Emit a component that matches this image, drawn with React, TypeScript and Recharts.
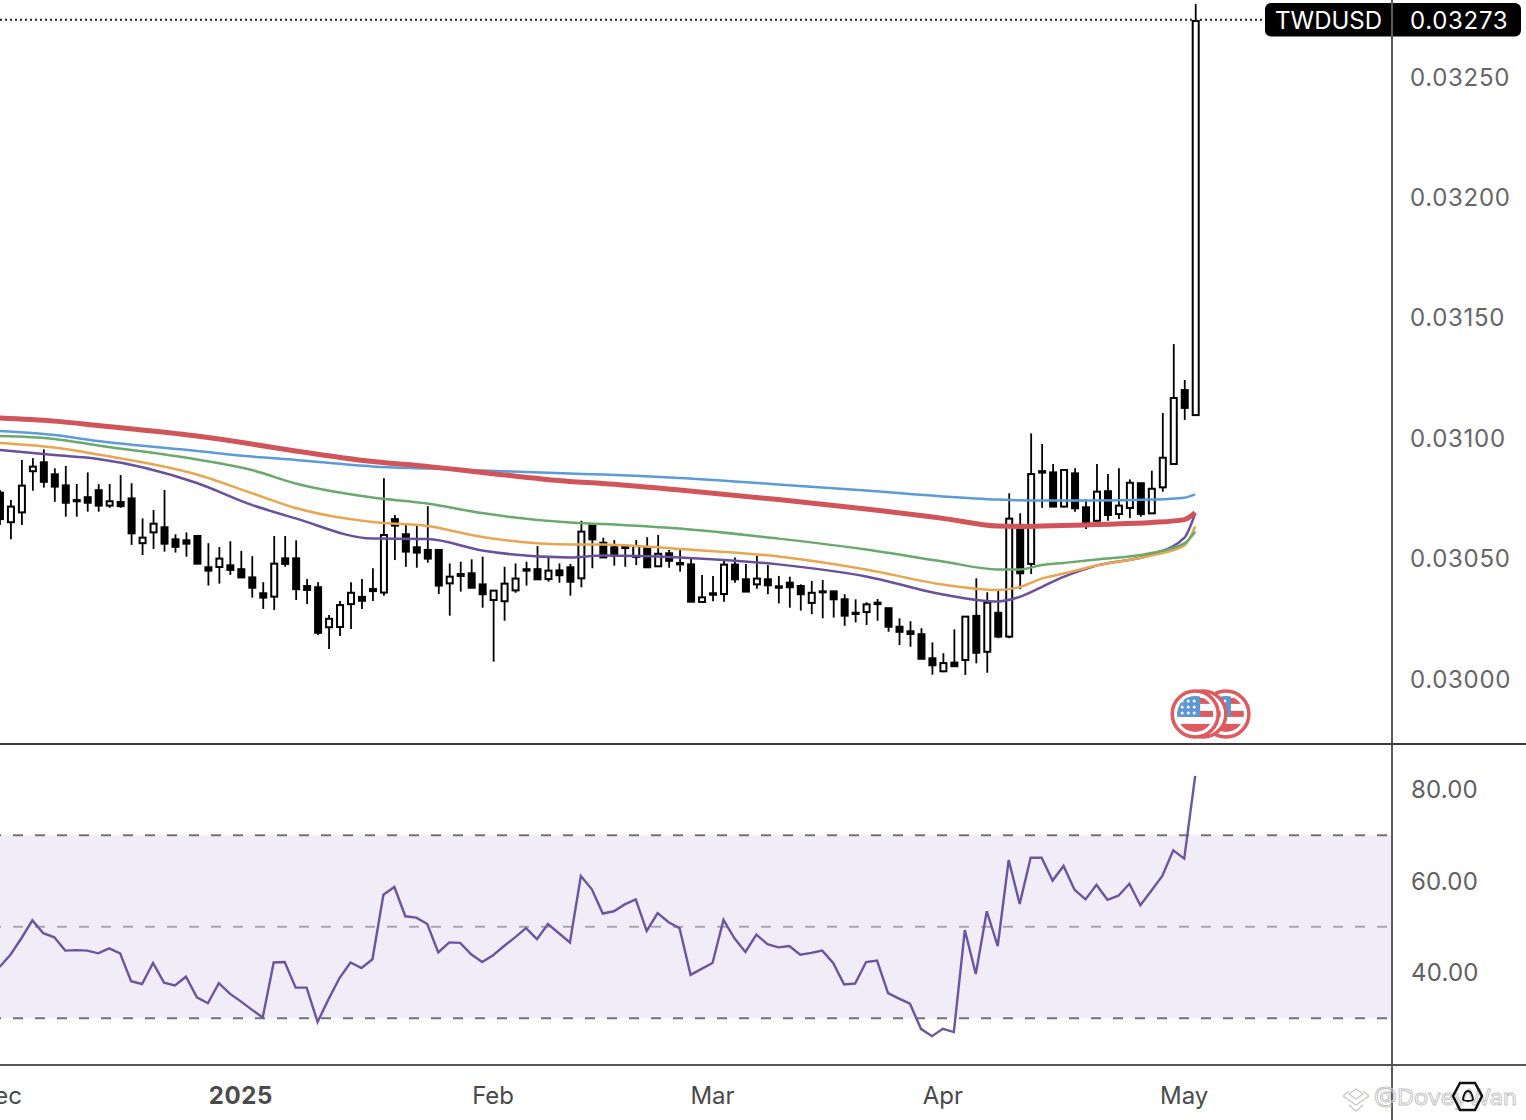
import { Bar, ComposedChart, Line, LineChart, ReferenceArea, ReferenceDot, ReferenceLine, XAxis, YAxis } from "recharts";

const opens = [
  0.030774, 0.030651, 0.030692, 0.030863, 0.0309, 0.03085, 0.030804, 0.030743, 0.030755, 0.030784,
  0.03072, 0.030735, 0.03075, 0.030564, 0.030609, 0.03063, 0.03058, 0.030576, 0.030594, 0.030464,
  0.030465, 0.030472, 0.030456, 0.030422, 0.030356, 0.030342, 0.030501, 0.030501, 0.030386, 0.030381,
  0.030215, 0.030216, 0.030311, 0.030341, 0.030374, 0.030359, 0.030664, 0.030601, 0.030547, 0.030536,
  0.030536, 0.030397, 0.030436, 0.030439, 0.030393, 0.030328, 0.030323, 0.030368, 0.030456, 0.030456,
  0.030415, 0.030451, 0.030464, 0.030418, 0.030638, 0.030566, 0.030547, 0.030549, 0.030507, 0.030547,
  0.030468, 0.030522, 0.030482, 0.030476, 0.03032, 0.030356, 0.030353, 0.030475, 0.030414, 0.030393,
  0.030414, 0.030385, 0.0304, 0.030386, 0.030316, 0.030364, 0.030364, 0.030331, 0.030275, 0.030278,
  0.030317, 0.030294, 0.030217, 0.030198, 0.030186, 0.030086, 0.030032, 0.030068, 0.030079, 0.030262,
  0.030113, 0.030275, 0.030176, 0.03064, 0.030478, 0.030863, 0.030858, 0.030716, 0.030854, 0.030713,
  0.030657, 0.03078, 0.030685, 0.03071, 0.030813, 0.030688, 0.030796, 0.030893, 0.0312, 0.031096,
];
const highs = [
  0.030785, 0.030743, 0.03091, 0.030917, 0.030954, 0.030875, 0.030885, 0.03081, 0.030858, 0.030809,
  0.03081, 0.030847, 0.030813, 0.030667, 0.030702, 0.030785, 0.030601, 0.030609, 0.030594, 0.030564,
  0.030548, 0.030572, 0.030532, 0.03051, 0.030402, 0.030594, 0.030594, 0.030576, 0.030415, 0.030402,
  0.030266, 0.030324, 0.030402, 0.030415, 0.03046, 0.030834, 0.030681, 0.030644, 0.03064, 0.030718,
  0.030536, 0.03048, 0.030487, 0.030497, 0.030508, 0.030367, 0.030466, 0.03048, 0.030487, 0.030552,
  0.030511, 0.03048, 0.030478, 0.030657, 0.030638, 0.030587, 0.030577, 0.030557, 0.030577, 0.030589,
  0.030598, 0.030536, 0.030536, 0.030504, 0.030432, 0.030428, 0.030491, 0.030505, 0.030478, 0.030512,
  0.030473, 0.030428, 0.030425, 0.030393, 0.030407, 0.030411, 0.030364, 0.030352, 0.030331, 0.030319,
  0.030332, 0.030294, 0.030252, 0.03024, 0.030211, 0.030152, 0.030107, 0.030206, 0.030259, 0.030418,
  0.03036, 0.03037, 0.030771, 0.030688, 0.03102, 0.030976, 0.030893, 0.030868, 0.030875, 0.030746,
  0.030893, 0.030851, 0.030875, 0.030829, 0.030813, 0.030865, 0.031105, 0.031391, 0.031242, 0.032803,
];
const lows = [
  0.03064, 0.03058, 0.03064, 0.030782, 0.030795, 0.030736, 0.030674, 0.030674, 0.030695, 0.030695,
  0.030711, 0.030711, 0.030557, 0.030515, 0.03054, 0.030529, 0.030525, 0.030508, 0.030479, 0.030388,
  0.030396, 0.030432, 0.030421, 0.030338, 0.030291, 0.030287, 0.030466, 0.030328, 0.030311, 0.030183,
  0.030125, 0.030179, 0.030208, 0.030291, 0.030324, 0.030346, 0.030494, 0.030466, 0.030462, 0.030483,
  0.030353, 0.030263, 0.030363, 0.030379, 0.030296, 0.030072, 0.030242, 0.030358, 0.030388, 0.030414,
  0.030404, 0.0304, 0.030346, 0.030381, 0.03046, 0.030505, 0.030471, 0.030466, 0.030473, 0.030464,
  0.030468, 0.030462, 0.030446, 0.030321, 0.030319, 0.030323, 0.030321, 0.0304, 0.030363, 0.030375,
  0.030352, 0.030314, 0.030296, 0.030284, 0.030269, 0.030252, 0.030255, 0.030221, 0.030235, 0.030224,
  0.030242, 0.030196, 0.030141, 0.030134, 0.030084, 0.030018, 0.030028, 0.030053, 0.030017, 0.030065,
  0.030026, 0.030169, 0.030169, 0.030373, 0.030436, 0.030711, 0.030716, 0.030713, 0.030695, 0.030623,
  0.030657, 0.030657, 0.030664, 0.030669, 0.030674, 0.030688, 0.030778, 0.030893, 0.031076, 0.031096,
];
const closes = [
  0.030664, 0.030716, 0.030803, 0.030882, 0.030819, 0.030799, 0.030732, 0.030738, 0.030732, 0.03072,
  0.030738, 0.030718, 0.030605, 0.030587, 0.030645, 0.030562, 0.030549, 0.030562, 0.030479, 0.03045,
  0.0305, 0.030453, 0.030422, 0.030379, 0.030338, 0.030479, 0.030478, 0.030373, 0.03037, 0.030192,
  0.03025, 0.030307, 0.030358, 0.030325, 0.030365, 0.030598, 0.030637, 0.030529, 0.030525, 0.0305,
  0.030388, 0.030425, 0.030428, 0.030379, 0.030352, 0.030367, 0.030396, 0.030417, 0.03045, 0.030414,
  0.03045, 0.030431, 0.030404, 0.030612, 0.03058, 0.030505, 0.030512, 0.030544, 0.030552, 0.030464,
  0.03052, 0.030491, 0.030476, 0.030321, 0.030339, 0.03035, 0.030475, 0.030414, 0.030363, 0.030417,
  0.030389, 0.030379, 0.030381, 0.030352, 0.030358, 0.03036, 0.030331, 0.030263, 0.03027, 0.03031,
  0.030311, 0.030217, 0.030196, 0.030187, 0.030084, 0.030057, 0.030066, 0.030053, 0.030259, 0.030109,
  0.030317, 0.030176, 0.030666, 0.030439, 0.030851, 0.030857, 0.030716, 0.030868, 0.030709, 0.030652,
  0.030778, 0.030681, 0.03072, 0.030815, 0.030685, 0.03079, 0.030919, 0.031167, 0.031126, 0.032733,
];

// moving averages at these candle positions
const maIndex = [0, 5, 9, 18, 23, 27, 34, 39, 44, 52, 55, 62, 71, 79, 86, 91, 93, 95, 97, 100, 105, 108, 109];
const maRed = [
  0.031084, 0.031071, 0.031053, 0.031009, 0.030976, 0.030947, 0.030903, 0.030883, 0.030858, 0.03082, 0.030812, 0.030785,
  0.030745, 0.030706, 0.030667, 0.030635, 0.030633, 0.030635, 0.030637, 0.030642, 0.03065, 0.030662, 0.030691,
];
const maBlue = [
  0.03103, 0.031013, 0.030988, 0.030947, 0.030924, 0.03091, 0.030883, 0.030874, 0.030866, 0.030853, 0.030849, 0.030835,
  0.030808, 0.030783, 0.030758, 0.030745, 0.030742, 0.030741, 0.030741, 0.030741, 0.030745, 0.030753, 0.030767,
];
const maGreen = [
  0.031009, 0.030997, 0.03097, 0.030912, 0.030868, 0.030812, 0.030754, 0.030729, 0.030689, 0.03065, 0.030644, 0.030625,
  0.030583, 0.030538, 0.030488, 0.030455, 0.030455, 0.030473, 0.030482, 0.030496, 0.030523, 0.030563, 0.030612,
];
const maOrange = [
  0.03098, 0.030961, 0.030932, 0.030849, 0.030772, 0.03071, 0.030652, 0.030635, 0.03059, 0.030559, 0.030559, 0.03054,
  0.030509, 0.030455, 0.030392, 0.03037, 0.030382, 0.030417, 0.030438, 0.030471, 0.030513, 0.030554, 0.030633,
];
const maPurple = [
  0.030951, 0.03093, 0.030914, 0.030814, 0.030723, 0.030667, 0.030583, 0.030581, 0.030534, 0.030505, 0.030513, 0.030505,
  0.030476, 0.030426, 0.030351, 0.030322, 0.030341, 0.030382, 0.030424, 0.030471, 0.030517, 0.030586, 0.030688,
];

const rsiValues = [
  41.2, 43.9, 47.5, 51.4, 48.6, 47.7, 44.8, 44.9, 44.8, 44.2,
  45.3, 44.2, 38.1, 37.5, 42.1, 37.8, 37.2, 39.1, 34.6, 33.3,
  37.7, 35.4, 33.7, 31.9, 30.2, 42.2, 42.3, 36.7, 36.7, 29.2,
  34.2, 38.8, 42.2, 41, 42.9, 57, 58.7, 52.3, 52, 50.6,
  44.4, 46.6, 46.5, 44, 42.3, 43.8, 45.8, 47.7, 49.7, 47.3,
  50.6, 48.6, 46.6, 61.1, 58.2, 52.9, 53.4, 54.9, 56, 49.1,
  53, 51, 49.7, 39.5, 40.8, 42.1, 51.5, 47.5, 44.5, 48.3,
  46.2, 45.5, 45.8, 43.9, 44.3, 44.8, 42.1, 37.4, 37.6, 42.3,
  42.6, 35.5, 34.3, 33.2, 27.7, 26.1, 27.7, 27, 49.3, 39.7,
  53.4, 45.8, 64.6, 55, 65.1, 65.1, 60.1, 63.3, 58.1, 56,
  59.2, 55.9, 56.8, 59.4, 54.7, 57.9, 61.1, 66.7, 64.9, 83,
];

const priceTicks = [0.03, 0.0305, 0.031, 0.0315, 0.032, 0.0325];
const rsiTicks = [40, 60, 80];
const timeTicks = [0, 22, 45, 65, 86, 108];
const timeLabels = ["Dec", "2025", "Feb", "Mar", "Apr", "May"];
const eventIndex = [111.8, 109.7, 109];
const eventPrice = 0.029855;
const symbol = "TWDUSD";
const lastPriceLine = 0.032738;

const rows = opens.map((open, i) => {
  const k = maIndex.indexOf(i);
  return {
    i,
    open,
    high: highs[i],
    low: lows[i],
    close: closes[i],
    rsi: rsiValues[i],
    red: k >= 0 ? maRed[k] : null,
    blue: k >= 0 ? maBlue[k] : null,
    green: k >= 0 ? maGreen[k] : null,
    orange: k >= 0 ? maOrange[k] : null,
    purple: k >= 0 ? maPurple[k] : null,
  };
});

const lastClose = closes[closes.length - 1];
const xDomain: [number, number] = [0.05, 126.94];
const priceTickStyle = { fontFamily: "Inter", fontSize: 24, fill: "#666", letterSpacing: 0.7 };
const rsiTickStyle = { fontFamily: "Inter", fontSize: 24, fill: "#5f5f5f", letterSpacing: 0.2 };

const Candle = (props: any) => {
  const { x, y, width, height, payload } = props;
  const perUnit = height / (payload.high - payload.low);
  const top = y + (payload.high - Math.max(payload.open, payload.close)) * perUnit;
  const bottom = y + (payload.high - Math.min(payload.open, payload.close)) * perUnit;
  const mid = x + width / 2 + 1;
  const up = payload.close > payload.open;
  return (
    <g>
      <line x1={mid} x2={mid} y1={y} y2={y + height} stroke="#000" strokeWidth={1.8} />
      <rect x={mid - 3} y={top} width={6} height={Math.max(bottom - top, 1)} fill={up ? "#fff" : "#000"} stroke="#000" strokeWidth={2} />
    </g>
  );
};

const PriceTag = (props: any) => {
  const { viewBox } = props;
  const right = viewBox.x + viewBox.width;
  const cy = viewBox.y;
  return (
    <g>
      <rect x={right - 127} y={cy - 16.7} width={256} height={33.5} rx={6} fill="#000" />
      <text x={right - 117} y={cy + 9} fontFamily="Inter" fontSize={24} fill="#fff">{symbol}</text>
      <text x={right + 18} y={cy + 9} fontFamily="Inter" fontSize={24} fill="#fff" letterSpacing={0.7}>{lastClose.toFixed(5)}</text>
    </g>
  );
};

const FlagMarker = (props: any) => {
  const { cx, cy, index } = props;
  const id = `flag-${index}`;
  const red = "#dd5a5f";
  const blue = "#5b97d5";
  const dots = [-13, -7, -1];
  return (
    <g transform={`translate(${cx},${cy})`}>
      <clipPath id={id}><circle r={18} /></clipPath>
      <circle r={23} fill="#fff" stroke={red} strokeWidth={3.5} />
      <g clipPath={`url(#${id})`}>
        <rect x={-20} y={-16} width={40} height={6} fill={red} />
        <rect x={-20} y={-3} width={40} height={6} fill={red} />
        <rect x={-20} y={10} width={40} height={8} fill={red} />
        <rect x={-20} y={-18} width={25} height={21} fill={blue} />
        {dots.map((dx) => dots.map((dy) => <circle key={`${dx}${dy}`} cx={dx} cy={dy} r={1.5} fill="#fff" />))}
      </g>
    </g>
  );
};

const TimeTick = (props: any) => {
  const { x, y, payload } = props;
  const label = timeLabels[timeTicks.indexOf(payload.value)];
  const bold = label === "2025";
  return (
    <text x={x} y={y + 31} textAnchor="middle" fontFamily="Inter" fontSize={24} fontWeight={bold ? 700 : 400} fill="#4a4a4a" letterSpacing={bold ? 0.6 : 0}>
      {label}
    </text>
  );
};

const maLine = (key: string, color: string, width: number) => (
  <Line type="monotone" dataKey={key} stroke={color} strokeWidth={width} dot={false} connectNulls isAnimationActive={false} />
);

export default function App() {
  return (
    <div style={{ position: "absolute", left: 0, top: 0, width: 1526, height: 1120, background: "#fff", overflow: "hidden" }}>
      <ComposedChart width={1526} height={744} data={rows} margin={{ top: 0, right: 0, bottom: 0, left: 0 }} barGap={0}>
        <XAxis dataKey="i" type="number" domain={xDomain} allowDataOverflow hide />
        <YAxis
          orientation="right"
          width={134}
          domain={[0.02973, 0.03282]}
          allowDataOverflow
          ticks={priceTicks}
          interval={0}
          axisLine={false}
          tickLine={false}
          tickSize={0}
          tickMargin={18}
          tick={priceTickStyle}
          tickFormatter={(v: number) => v.toFixed(5)}
        />
        <Bar dataKey={(d: any) => [d.low, d.high]} barSize={8} shape={<Candle />} isAnimationActive={false} />
        {maLine("purple", "#6a4f9f", 2.5)}
        {maLine("orange", "#e8a650", 2.5)}
        {maLine("green", "#6aa96c", 2.5)}
        {maLine("blue", "#5b9bd8", 2.5)}
        {maLine("red", "#d0545a", 5)}
        {eventIndex.map((x) => (
          <ReferenceDot key={x} x={x} y={eventPrice} r={23} shape={(p: any) => <FlagMarker {...p} index={x} />} />
        ))}
        <ReferenceLine y={lastPriceLine} stroke="#222" strokeWidth={2} strokeDasharray="2 3" label={<PriceTag />} />
      </ComposedChart>
      <div style={{ position: "absolute", left: 0, top: 744 }}>
        <LineChart width={1526} height={376} data={rows} margin={{ top: 0, right: 0, bottom: 0, left: 0 }}>
          <XAxis
            dataKey="i"
            type="number"
            domain={xDomain}
            allowDataOverflow
            ticks={timeTicks}
            interval={0}
            height={55}
            axisLine={false}
            tickLine={false}
            tick={<TimeTick />}
          />
          <YAxis
            orientation="right"
            width={134}
            domain={[19.8, 89.95]}
            allowDataOverflow
            ticks={rsiTicks}
            interval={0}
            axisLine={false}
            tickLine={false}
            tickSize={0}
            tickMargin={19}
            tick={rsiTickStyle}
            tickFormatter={(v: number) => v.toFixed(2)}
          />
          <ReferenceArea y1={30} y2={70} fill="#7e57c2" fillOpacity={0.11} stroke="none" />
          <ReferenceLine y={70} stroke="#74707a" strokeWidth={2} strokeDasharray="10 12" strokeDashoffset={17} />
          <ReferenceLine y={50} stroke="#aaa6b0" strokeWidth={2} strokeDasharray="10 12" strokeDashoffset={17} />
          <ReferenceLine y={30} stroke="#74707a" strokeWidth={2} strokeDasharray="10 12" strokeDashoffset={17} />
          <Line dataKey="rsi" stroke="#6a55a0" strokeWidth={2.4} dot={false} isAnimationActive={false} />
        </LineChart>
      </div>
      <svg width={1526} height={1120} style={{ position: "absolute", left: 0, top: 0, pointerEvents: "none" }}>
        <rect x={1391} y={0} width={2} height={1120} fill="#5c5c5c" />
        <rect x={0} y={743} width={1526} height={2} fill="#3a3a3a" />
        <rect x={0} y={1064} width={1526} height={2} fill="#555" />
        <g fill="none" stroke="#c9c9c9" strokeWidth={1.4}>
          <path d="M1356 1089 l7 5 l-7 5 l-7 -5 z" />
          <path d="M1343 1096 l6 -5 M1369 1096 l-6 -5" />
          <path d="M1343 1096 L1356 1105 L1369 1096" />
          <path d="M1349 1105 L1356 1111 L1363 1105" />
        </g>
        <text x={1374} y={1105} fontFamily="Inter" fontSize={22} fill="none" stroke="#c4c4c4" strokeWidth={0.9} textLength={143} lengthAdjust="spacingAndGlyphs">@DoveyWan</text>
        <path d="M1460 1083 L1475 1083 L1482 1096 L1475 1110 L1460 1110 L1453 1096 Z" fill="none" stroke="#111" strokeWidth={2.5} />
        <path d="M1463 1100 q1 -9 5 -9 q4 0 5 9 M1463 1100 q5 2 10 0" fill="none" stroke="#111" strokeWidth={1.8} />
      </svg>
    </div>
  );
}
